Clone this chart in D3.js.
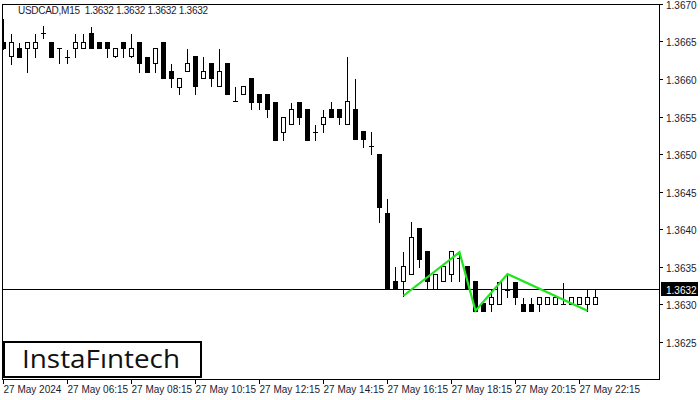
<!DOCTYPE html>
<html><head><meta charset="utf-8">
<script src="https://cdn.jsdelivr.net/npm/d3@7"></script>
<style>body{margin:0;background:#fff}svg{display:block}</style>
</head><body>
<svg id="chart" width="700" height="400"></svg>
<script>
// OHLC candles, 15-minute bars, index 0 = 27 May 04:15
const opens  = [1.36649,1.36631,1.36641,1.36641,1.36641,1.36661,1.36649,1.36641,1.36629,1.36641,
                1.36641,1.36661,1.36649,1.36649,1.36631,1.36649,1.36631,1.36649,1.36629,1.36621,
                1.36649,1.36611,1.36589,1.36611,1.36631,1.36601,1.36621,1.36591,1.36621,1.36571,
                1.36580,1.36601,1.36580,1.36580,1.36569,1.36529,1.36540,1.36569,1.36560,1.36529,
                1.36540,1.36560,1.36560,1.36540,1.36560,1.36531,1.36511,1.36500,1.36421,1.36331,
                1.36331,1.36340,1.36401,1.36371,1.36320,1.36331,1.36340,1.36361,1.36351,1.36331,
                1.36301,1.36300,1.36300,1.36319,1.36329,1.36300,1.36300,1.36300,1.36300,1.36300,
                1.36300,1.36300,1.36300,1.36300,1.36300];
const highs  = [1.36681,1.36661,1.36649,1.36649,1.36661,1.36672,1.36649,1.36641,1.36640,1.36661,
                1.36661,1.36671,1.36649,1.36649,1.36641,1.36649,1.36661,1.36649,1.36629,1.36641,
                1.36649,1.36621,1.36601,1.36641,1.36631,1.36631,1.36621,1.36641,1.36621,1.36591,
                1.36591,1.36601,1.36580,1.36580,1.36569,1.36549,1.36569,1.36569,1.36560,1.36540,
                1.36560,1.36571,1.36560,1.36631,1.36601,1.36531,1.36531,1.36500,1.36441,1.36351,
                1.36371,1.36411,1.36401,1.36371,1.36340,1.36351,1.36371,1.36371,1.36351,1.36331,
                1.36301,1.36320,1.36329,1.36340,1.36329,1.36309,1.36309,1.36309,1.36309,1.36309,
                1.36329,1.36309,1.36309,1.36320,1.36320];
const lows   = [1.36640,1.36620,1.36629,1.36609,1.36629,1.36655,1.36629,1.36621,1.36621,1.36629,
                1.36641,1.36641,1.36641,1.36629,1.36629,1.36629,1.36629,1.36609,1.36609,1.36609,
                1.36601,1.36589,1.36580,1.36611,1.36580,1.36601,1.36591,1.36591,1.36580,1.36571,
                1.36580,1.36560,1.36560,1.36549,1.36519,1.36519,1.36540,1.36540,1.36519,1.36519,
                1.36529,1.36549,1.36540,1.36540,1.36520,1.36509,1.36500,1.36409,1.36320,1.36320,
                1.36311,1.36340,1.36349,1.36320,1.36320,1.36331,1.36331,1.36331,1.36320,1.36291,
                1.36291,1.36291,1.36300,1.36309,1.36300,1.36291,1.36291,1.36291,1.36300,1.36300,
                1.36300,1.36300,1.36300,1.36291,1.36300];
const closes = [1.36641,1.36649,1.36629,1.36649,1.36649,1.36661,1.36629,1.36641,1.36629,1.36649,
                1.36649,1.36641,1.36641,1.36641,1.36641,1.36641,1.36641,1.36621,1.36609,1.36641,
                1.36601,1.36601,1.36601,1.36621,1.36591,1.36611,1.36601,1.36611,1.36580,1.36571,
                1.36591,1.36569,1.36569,1.36560,1.36519,1.36549,1.36560,1.36549,1.36519,1.36529,
                1.36549,1.36549,1.36549,1.36571,1.36520,1.36520,1.36511,1.36429,1.36320,1.36320,
                1.36351,1.36389,1.36360,1.36331,1.36340,1.36351,1.36371,1.36361,1.36320,1.36291,
                1.36291,1.36309,1.36329,1.36319,1.36309,1.36291,1.36291,1.36309,1.36309,1.36309,
                1.36300,1.36309,1.36309,1.36309,1.36309];

// x-axis tick labels every 8 bars (2 hours)
const xTickIndex  = [0, 8, 16, 24, 32, 40, 48, 56, 64, 72];
const xTickLabels = ["27 May 2024","27 May 06:15","27 May 08:15","27 May 10:15","27 May 12:15",
                     "27 May 14:15","27 May 16:15","27 May 18:15","27 May 20:15","27 May 22:15"];
const yTicks = [1.3625,1.3630,1.3635,1.3640,1.3645,1.3650,1.3655,1.3660,1.3665,1.3670];

// Pattern (triple bottom) line: bar index and price
const patternIdx   = [50, 57, 59, 63, 73];
const patternPrice = [1.36311, 1.36369, 1.36291, 1.36340, 1.36291];

const currentPrice = 1.3632;
const titleText = "USDCAD,M15  1.3632 1.3632 1.3632 1.3632";

const L = 2, T = 4, R = 659, B = 379;
const svg = d3.select("#chart");
const x = d3.scaleLinear().domain([0, 82]).range([3, 659]);
const y = d3.scaleLinear().domain([1.3620, 1.3670]).range([B, T]);
const px = v => Math.round(x(v)) + 0.5;
const py = v => Math.round(y(v)) + 0.5;
const font = "'Liberation Sans', Arial, sans-serif";
const txtCol = "#1b1b2e";

// frame
svg.append("rect").attr("x", L + 0.5).attr("y", T + 0.5).attr("width", R - L).attr("height", B - T)
  .attr("fill", "#fff").attr("stroke", "#000");

const clip = svg.append("clipPath").attr("id", "c").append("rect")
  .attr("x", L + 1).attr("y", T + 1).attr("width", R - L - 1).attr("height", B - T - 1);
const plot = svg.append("g").attr("clip-path", "url(#c)");

// current price line
plot.append("line").attr("x1", L).attr("x2", R).attr("y1", py(currentPrice)).attr("y2", py(currentPrice))
  .attr("stroke", "#000").attr("stroke-width", 1);

// candles
const data = opens.map((o, i) => ({i, o, h: highs[i], l: lows[i], c: closes[i]}));
const g = plot.selectAll("g.cd").data(data).join("g").attr("class", "cd");
g.append("line").attr("x1", d => px(d.i)).attr("x2", d => px(d.i))
  .attr("y1", d => py(d.h)).attr("y2", d => py(d.l) + 0.5).attr("stroke", "#000").attr("shape-rendering", "crispEdges");
g.each(function(d) {
  const s = d3.select(this);
  const top = py(Math.max(d.o, d.c)), bot = py(Math.min(d.o, d.c));
  if (bot - top < 1) {
    s.append("line").attr("x1", px(d.i) - 2.5).attr("x2", px(d.i) + 2.5).attr("y1", top).attr("y2", top)
      .attr("stroke", "#000").attr("shape-rendering", "crispEdges");
  } else {
    s.append("rect").attr("x", px(d.i) - 2).attr("width", 4).attr("y", top).attr("height", bot - top)
      .attr("fill", d.c >= d.o ? "#fff" : "#000").attr("stroke", "#000").attr("shape-rendering", "crispEdges");
  }
});

// pattern line
plot.append("path")
  .datum(patternIdx.map((v, k) => [v, patternPrice[k]]))
  .attr("d", d3.line().x(d => x(d[0]) + 0.5).y(d => y(d[1])))
  .attr("fill", "none").attr("stroke", "#1fe61f").attr("stroke-width", 2.2);

// y axis
const ya = svg.append("g");
yTicks.forEach(v => {
  const yy = py(v);
  ya.append("line").attr("x1", R).attr("x2", R + 4).attr("y1", yy).attr("y2", yy).attr("stroke", "#000");
  ya.append("text").attr("x", R + 7).attr("y", yy + 4).text(v.toFixed(4))
    .attr("font-family", font).attr("font-size", 10).attr("fill", txtCol);
});
// current price label
svg.append("rect").attr("x", R + 2).attr("y", py(currentPrice) - 7.5).attr("width", 37).attr("height", 14).attr("fill", "#000");
svg.append("text").attr("x", R + 7).attr("y", py(currentPrice) + 4).text(currentPrice.toFixed(4))
  .attr("font-family", font).attr("font-size", 10).attr("fill", "#fff");

// x axis
const xa = svg.append("g");
xTickIndex.forEach((v, k) => {
  const xx = px(v);
  xa.append("line").attr("x1", xx).attr("x2", xx).attr("y1", B).attr("y2", B + 5).attr("stroke", "#000");
  xa.append("text").attr("x", xx).attr("y", B + 14).text(xTickLabels[k])
    .attr("font-family", font).attr("font-size", 10).attr("fill", txtCol);
});

// title
svg.append("text").attr("x", 18).attr("y", 14).text(titleText)
  .attr("textLength", 190).attr("lengthAdjust", "spacing")
  .attr("font-family", font).attr("font-size", 10).attr("fill", txtCol).style("white-space", "pre");

// logo
svg.append("rect").attr("x", 4).attr("y", 342).attr("width", 197).attr("height", 35)
  .attr("fill", "#fff").attr("stroke", "#000").attr("stroke-width", 2);
svg.append("text").attr("x", 22).attr("y", 368).text("InstaFıntech")
  .attr("textLength", 158).attr("lengthAdjust", "spacingAndGlyphs")
  .attr("font-family", "'Open Sans', Lato, sans-serif").attr("font-weight", 500).attr("font-size", 26).attr("fill", "#111");
</script>
</body></html>
